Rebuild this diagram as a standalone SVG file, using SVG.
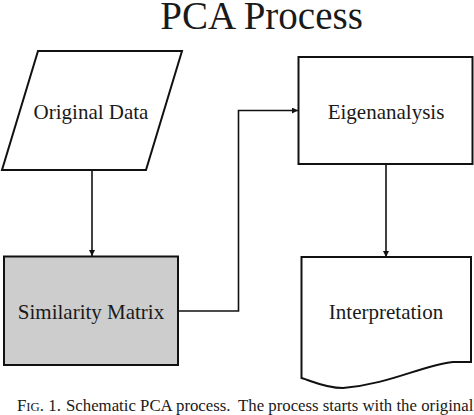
<svg xmlns="http://www.w3.org/2000/svg" width="474" height="415" viewBox="0 0 474 415">
<style>
.shape{fill:#fff;stroke:#111;stroke-width:2}
.gray{fill:#cdcdcd}
.serif{font-family:"Liberation Serif","Times New Roman",Times,"DejaVu Serif",serif;fill:#1a1a1a}
.lbl{font-size:21px;text-anchor:middle}
.edge{fill:none;stroke:#111;stroke-width:1.6}
</style>
<defs>
<marker id="ah" viewBox="0 0 10 10" refX="10" refY="5" markerWidth="6" markerHeight="6" markerUnits="userSpaceOnUse" orient="auto">
<path d="M0,0 L10,5 L0,10 Z" fill="#111"/>
</marker>
</defs>
<rect width="474" height="415" fill="#fff"/>
<text class="serif" x="261.5" y="29" font-size="39" text-anchor="middle">PCA Process</text>
<g id="original-data">
<polygon class="shape" points="38,51 182,51 146,170 2,170"/>
<text class="serif lbl" x="91" y="119">Original Data</text>
</g>
<g id="similarity-matrix">
<rect class="shape gray" x="4" y="256.5" width="174" height="108.5"/>
<text class="serif lbl" x="91" y="319">Similarity Matrix</text>
</g>
<g id="eigenanalysis">
<rect class="shape" x="298.5" y="57" width="174" height="107"/>
<text class="serif lbl" x="386" y="119">Eigenanalysis</text>
</g>
<g id="interpretation">
<path class="shape" d="M301.5,257 L471,257 L471,362 L453,362 C420,366 390,384 343,388 C325,388 312,381 301.5,378 Z"/>
<text class="serif lbl" x="386" y="319">Interpretation</text>
</g>
<g id="connectors">
<path class="edge" d="M92,170 V256" marker-end="url(#ah)"/>
<path class="edge" d="M178,311 H238.5 V110.5 H298" marker-end="url(#ah)"/>
<path class="edge" d="M386,164 V257" marker-end="url(#ah)"/>
</g>
<text class="serif" y="411" font-size="16.8"><tspan x="17">F<tspan font-size="12.8">IG</tspan>. 1.</tspan><tspan x="66">Schematic PCA process.</tspan><tspan x="238">The process starts with the original</tspan></text>
</svg>
